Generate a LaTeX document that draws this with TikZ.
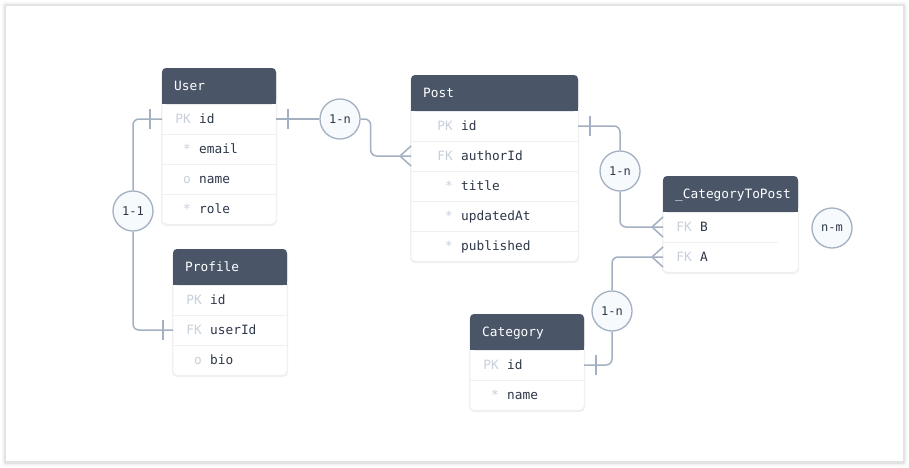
\documentclass[tikz,border=0pt]{standalone}
\usepackage{fontspec}
\setmonofont{DejaVu Sans Mono}

\definecolor{hdrcol}{RGB}{74,85,104}
\definecolor{relline}{RGB}{163,176,194}
\definecolor{relfill}{RGB}{247,250,252}
\definecolor{txtcol}{RGB}{45,55,72}
\definecolor{keycol}{RGB}{200,208,219}
\definecolor{sepcol}{RGB}{237,241,246}

\tikzset{
  card/.style={fill=white, draw=black!6, line width=0.5pt, rounded corners=4pt},
  cardshadow/.style={fill=black!6, rounded corners=5pt},
  rowbox/.style={anchor=north west, minimum height=30pt, inner sep=0pt, outer sep=0pt},
  hdrtxt/.style={anchor=base west, text=white, inner sep=0pt},
  keytxt/.style={anchor=base east, text=keycol, inner sep=0pt},
  coltxt/.style={anchor=base west, text=txtcol, inner sep=0pt},
  relnode/.style={circle, draw=relline, fill=relfill, line width=1.3pt, minimum size=40pt,
    inner sep=0pt, text=txtcol, font=\ttfamily\fontsize{12}{14}\selectfont},
  rel/.style={draw=relline, line width=1.5pt, rounded corners=6pt},
  sep/.style={draw=sepcol, line width=1pt},
}

% tick for the "one" end, crow's foot for the "many" end
\newcommand{\onetick}[2]{\draw[rel, sharp corners] ([xshift=#2]#1) ++(0,-10) -- ++(0,20);}
\newcommand{\crowfoot}[1]{%
  \draw[rel, sharp corners] ([xshift=-11pt]#1.west) -- ([yshift=10pt]#1.west)
    ([xshift=-11pt]#1.west) -- ([yshift=-10pt]#1.west);}

\begin{document}
\begin{tikzpicture}[x=1pt, y=-1pt, font=\ttfamily\fontsize{12.8}{15}\selectfont]
\useasboundingbox (0,0) rectangle (909,467);

% Frame
\fill[black!4, rounded corners=3pt] (2,2) rectangle (907,466);
\fill[black!11, rounded corners=2pt] (4,4) rectangle (905,464);
\fill[white] (6,6) rectangle (903,461);

% User
\begin{scope}[shift={(162,68)}]
\fill[cardshadow] (-1,2) rectangle (115,158);
\filldraw[card] (0,0) rectangle (114,156);
\fill[hdrcol, rounded corners=4pt] (0,0) rectangle (114,36);
\fill[hdrcol] (0,30) rectangle (114,36);
\node[hdrtxt] (user) at (12,22.5) {User};
\foreach \k/\c [count=\i] in {PK/id, */email, o/name, */role} {
  \node[rowbox, minimum width=114pt] (user-\c) at (0,{6+30*\i}) {};
  \node[keytxt] at (29,{25.5+30*\i}) {\k};
  \node[coltxt] at (37,{25.5+30*\i}) {\c};
}
\foreach \i in {1,2,3} \draw[sep] (0,{36+30*\i}) -- (114,{36+30*\i});
\end{scope}

% Profile
\begin{scope}[shift={(173,249)}]
\fill[cardshadow] (-1,2) rectangle (115,128);
\filldraw[card] (0,0) rectangle (114,126);
\fill[hdrcol, rounded corners=4pt] (0,0) rectangle (114,36);
\fill[hdrcol] (0,30) rectangle (114,36);
\node[hdrtxt] (profile) at (12,22.5) {Profile};
\foreach \k/\c [count=\i] in {PK/id, FK/userId, o/bio} {
  \node[rowbox, minimum width=114pt] (profile-\c) at (0,{6+30*\i}) {};
  \node[keytxt] at (29,{25.5+30*\i}) {\k};
  \node[coltxt] at (37,{25.5+30*\i}) {\c};
}
\foreach \i in {1,2} \draw[sep] (0,{36+30*\i}) -- (114,{36+30*\i});
\end{scope}

% Post
\begin{scope}[shift={(411,75)}]
\fill[cardshadow] (-1,2) rectangle (168,188);
\filldraw[card] (0,0) rectangle (167,186);
\fill[hdrcol, rounded corners=4pt] (0,0) rectangle (167,36);
\fill[hdrcol] (0,30) rectangle (167,36);
\node[hdrtxt] (post) at (12,22.5) {Post};
\foreach \k/\c [count=\i] in {PK/id, FK/authorId, */title, */updatedAt, */published} {
  \node[rowbox, minimum width=167pt] (post-\c) at (0,{6+30*\i}) {};
  \node[keytxt] at (42,{25.5+30*\i}) {\k};
  \node[coltxt] at (50,{25.5+30*\i}) {\c};
}
\foreach \i in {1,...,4} \draw[sep] (0,{36+30*\i}) -- (167,{36+30*\i});
\end{scope}

% _CategoryToPost
\begin{scope}[shift={(663,176)}]
\fill[cardshadow] (-1,2) rectangle (136,98);
\filldraw[card] (0,0) rectangle (135,96);
\fill[hdrcol, rounded corners=4pt] (0,0) rectangle (135,36);
\fill[hdrcol] (0,30) rectangle (135,36);
\node[hdrtxt] (ctp) at (12,22.5) {\_CategoryToPost};
\foreach \k/\c [count=\i] in {FK/B, FK/A} {
  \node[rowbox, minimum width=135pt] (ctp-\c) at (0,{6+30*\i}) {};
  \node[keytxt] at (29,{25.5+30*\i}) {\k};
  \node[coltxt] at (37,{25.5+30*\i}) {\c};
}
\draw[sep] (0,66) -- (115,66);
\end{scope}

% Category
\begin{scope}[shift={(470,314)}]
\fill[cardshadow] (-1,2) rectangle (115,98);
\filldraw[card] (0,0) rectangle (114,96);
\fill[hdrcol, rounded corners=4pt] (0,0) rectangle (114,36);
\fill[hdrcol] (0,30) rectangle (114,36);
\node[hdrtxt] (cat) at (12,22.5) {Category};
\foreach \k/\c [count=\i] in {PK/id, */name} {
  \node[rowbox, minimum width=114pt] (cat-\c) at (0,{6+30*\i}) {};
  \node[keytxt] at (29,{25.5+30*\i}) {\k};
  \node[coltxt] at (37,{25.5+30*\i}) {\c};
}
\draw[sep] (0,66) -- (114,66);
\end{scope}

% Relations
\node[relnode] (r1) at (340,119) {1-n};
\node[relnode] (r2) at (133,211) {1-1};
\node[relnode] (r3) at (620,171) {1-n};
\node[relnode] (r4) at (612,311) {1-n};
\node[relnode] (r5) at (832,228) {n-m};

% User -- Post
\draw[rel] (user-id.east) -- (r1);
\draw[rel] (r1.east) -- ++(10,0) |- (post-authorId.west);
\onetick{user-id.east}{12pt}
\crowfoot{post-authorId}

% User -- Profile
\draw[rel] (user-id.west) -| (r2);
\draw[rel] (r2) |- (profile-userId.west);
\onetick{user-id.west}{-12pt}
\onetick{profile-userId.west}{-10pt}

% Post -- _CategoryToPost
\draw[rel] (post-id.east) -| (r3);
\draw[rel] (r3) |- (ctp-B.west);
\onetick{post-id.east}{12pt}
\crowfoot{ctp-B}

% Category -- _CategoryToPost
\draw[rel] (cat-id.east) -| (r4);
\draw[rel] (r4) |- (ctp-A.west);
\onetick{cat-id.east}{12pt}
\crowfoot{ctp-A}
\end{tikzpicture}
\end{document}
